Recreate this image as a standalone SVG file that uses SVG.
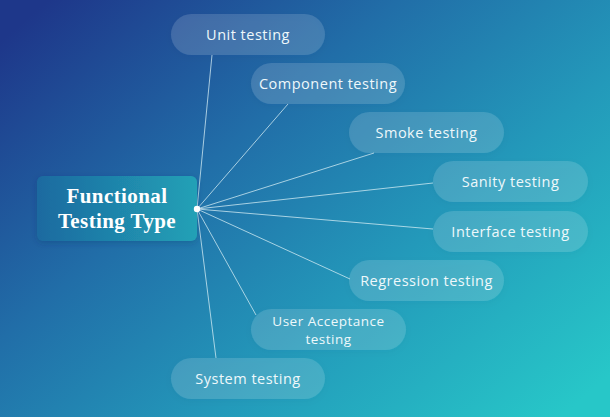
<svg xmlns="http://www.w3.org/2000/svg" width="610" height="417" viewBox="0 0 610 417">
<defs>
<linearGradient id="bg" x1="0" y1="0.1" x2="1" y2="0.9" gradientUnits="objectBoundingBox">
<stop offset="0" stop-color="#1e378a"/>
<stop offset="0.35" stop-color="#216ea8"/>
<stop offset="0.65" stop-color="#2399ba"/>
<stop offset="1" stop-color="#27c7c8"/>
</linearGradient>
<linearGradient id="central" x1="0" y1="0" x2="1" y2="0">
<stop offset="0" stop-color="#1c6aa0"/>
<stop offset="1" stop-color="#22a1b6"/>
</linearGradient>
<filter id="sh" x="-20%" y="-40%" width="140%" height="180%">
<feDropShadow dx="0" dy="2" stdDeviation="3" flood-color="#0a2a5a" flood-opacity="0.25"/>
</filter>
</defs>
<style>
.pill{fill:#ffffff;fill-opacity:0.14;filter:url(#sh)}
.lbl{font-family:"Open Sans","Noto Sans","DejaVu Sans",sans-serif;font-size:14.5px;fill:#eef8fb;text-anchor:middle;letter-spacing:0.5px}
.lbl2{font-size:13.5px}
.ttl{font-family:"Liberation Serif","DejaVu Serif",serif;font-size:21px;font-weight:bold;fill:#ffffff;text-anchor:middle;letter-spacing:0.4px}
.con{stroke:#d6eef4;stroke-opacity:0.75;stroke-width:1;fill:none}
</style>
<rect width="610" height="417" fill="url(#bg)"/>
<g id="connectors">
<line class="con" x1="197" y1="209" x2="212" y2="55"/>
<line class="con" x1="197" y1="209" x2="288" y2="104"/>
<line class="con" x1="197" y1="209" x2="374" y2="153"/>
<line class="con" x1="197" y1="209" x2="433" y2="183"/>
<line class="con" x1="197" y1="209" x2="433" y2="229"/>
<line class="con" x1="197" y1="209" x2="350" y2="279"/>
<line class="con" x1="197" y1="209" x2="256" y2="315"/>
<line class="con" x1="197" y1="209" x2="216" y2="358"/>
</g>
<g id="central-node">
<rect x="37" y="176" width="160" height="65" rx="6" fill="url(#central)" filter="url(#sh)"/>
<text class="ttl" x="117" y="203">Functional</text>
<text class="ttl" x="117" y="228">Testing Type</text>
<circle cx="197" cy="209" r="3.2" fill="#ffffff"/>
</g>
<g id="unit-testing">
<rect class="pill" x="171" y="14" width="154" height="41" rx="20.5"/>
<text class="lbl" x="248" y="39.5">Unit testing</text>
</g>
<g id="component-testing">
<rect class="pill" x="251" y="63" width="154" height="41" rx="20.5"/>
<text class="lbl" x="328" y="88.5">Component testing</text>
</g>
<g id="smoke-testing">
<rect class="pill" x="349" y="112" width="155" height="41" rx="20.5"/>
<text class="lbl" x="426.5" y="137.5">Smoke testing</text>
</g>
<g id="sanity-testing">
<rect class="pill" x="433" y="161" width="155" height="41" rx="20.5"/>
<text class="lbl" x="510.5" y="186.5">Sanity testing</text>
</g>
<g id="interface-testing">
<rect class="pill" x="433" y="211" width="155" height="41" rx="20.5"/>
<text class="lbl" x="510.5" y="236.5">Interface testing</text>
</g>
<g id="regression-testing">
<rect class="pill" x="349" y="260" width="155" height="41" rx="20.5"/>
<text class="lbl" x="426.5" y="285.5">Regression testing</text>
</g>
<g id="user-acceptance-testing">
<rect class="pill" x="251" y="309" width="155" height="41" rx="20.5"/>
<text class="lbl lbl2" x="328.5" y="326">User Acceptance</text>
<text class="lbl lbl2" x="328.5" y="343.5">testing</text>
</g>
<g id="system-testing">
<rect class="pill" x="171" y="358" width="154" height="41" rx="20.5"/>
<text class="lbl" x="248" y="383.5">System testing</text>
</g>
</svg>
